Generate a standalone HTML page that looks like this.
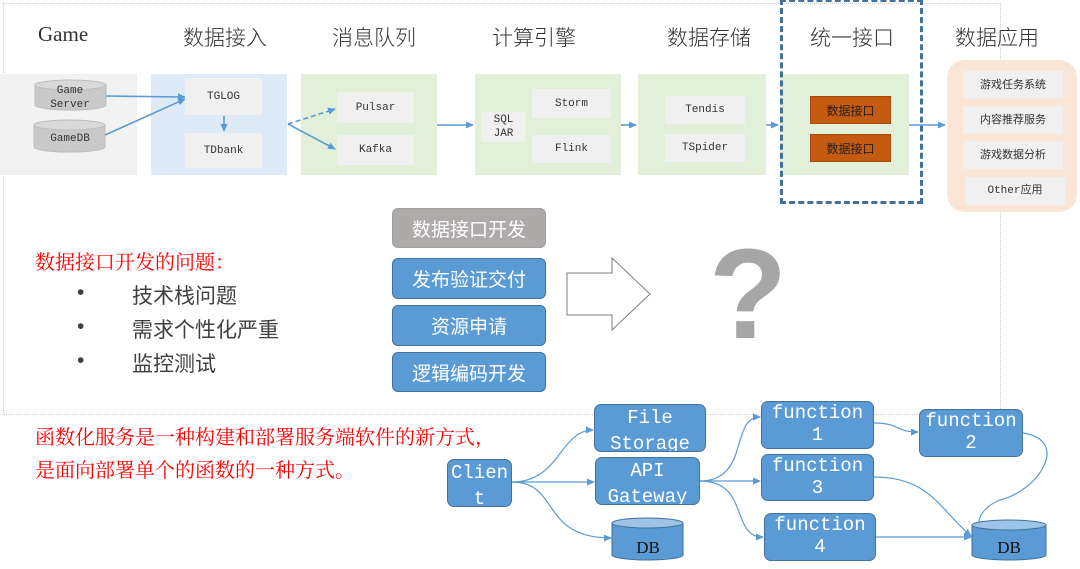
<!DOCTYPE html>
<html><head><meta charset="utf-8"><style>
body{margin:0;width:1080px;height:569px;background:#fff;position:relative;overflow:hidden;font-family:"Liberation Serif","Noto Serif CJK SC",serif}
.a{position:absolute;box-sizing:border-box}
.h{position:absolute;top:22px;font-size:21px;color:#333;font-family:"Liberation Sans","Noto Sans CJK SC",sans-serif;font-weight:300}
.p{position:absolute;top:74px;height:101px}
.g{background:#f0f0f0;font-family:"Liberation Mono","Noto Sans CJK SC",monospace;font-size:11px;color:#333;display:flex;align-items:center;justify-content:center;text-align:center;line-height:14px}
.o{background:#c55a11;border:1px solid #a84a0c;color:#222;font-size:12px;font-family:"Liberation Sans","Noto Sans CJK SC",sans-serif;display:flex;align-items:center;justify-content:center}
.b{background:#5b9bd5;border:1px solid #41719c;border-radius:6px;color:#fff;font-size:19px;font-family:"Liberation Sans","Noto Sans CJK SC",sans-serif;display:flex;align-items:center;justify-content:center}
.f{background:#5b9bd5;border:1px solid #41719c;border-radius:7px;color:#fff;font-size:19px;font-family:"Liberation Mono",monospace;text-align:center;line-height:26px;overflow:hidden}
.t{position:absolute;font-family:"Liberation Sans","Noto Sans CJK SC",sans-serif}
</style></head><body>
<div class="a" style="left:3px;top:3px;width:998px;height:412px;border:1px dotted #ccc"></div>
<div class="h" style="left:38px;font-family:'Liberation Serif',serif">Game</div>
<div class="h" style="left:183px">数据接入</div>
<div class="h" style="left:332px">消息队列</div>
<div class="h" style="left:492px">计算引擎</div>
<div class="h" style="left:667px">数据存储</div>
<div class="h" style="left:810px">统一接口</div>
<div class="h" style="left:955px">数据应用</div>

<div class="p" style="left:0;width:137px;background:#f2f2f2"></div>
<div class="p" style="left:151px;width:136px;background:#deebf7"></div>
<div class="p" style="left:301px;width:136px;background:#e2f0d9"></div>
<div class="p" style="left:475px;width:146px;background:#e2f0d9"></div>
<div class="p" style="left:638px;width:128px;background:#e2f0d9"></div>
<div class="p" style="left:780px;width:129px;background:#e2f0d9"></div>
<div class="a" style="left:780px;top:-1px;width:143px;height:205px;border:3px dashed #41719c"></div>
<div class="a" style="left:947px;top:60px;width:130px;height:152px;background:#fbe5d6;border-radius:18px"></div>

<svg class="a" style="left:0;top:0" width="1080" height="569">
<defs><marker id="m" markerUnits="userSpaceOnUse" markerWidth="8" markerHeight="8" refX="7" refY="4" orient="auto"><path d="M0,0.5 L8,4 L0,7.5z" fill="#5b9bd5"/></marker></defs>
<g fill="#c9c9c9" stroke="#bdbdbd">
<path d="M35,85 v20 a35,5 0 0 0 71,0 v-20z"/><ellipse cx="70.5" cy="85" rx="35.5" ry="5" fill="#d9d9d9"/>
<path d="M34,125 v22 a35,5 0 0 0 71,0 v-22z"/><ellipse cx="69.5" cy="125" rx="35.5" ry="5" fill="#d9d9d9"/>
</g>
<g stroke="#5b9bd5" stroke-width="1.6" fill="none" marker-end="url(#m)">
<path d="M106,96 L185,97"/><path d="M105,135 L185,99"/><path d="M224,116 V131"/>
<path d="M288,124 L335,109" stroke-dasharray="5,3"/><path d="M288,124 L335,149"/>
<path d="M437,125 H473"/><path d="M621,125 H636"/><path d="M766,125 H778"/><path d="M909,125 H945"/>
</g>
<path d="M567,273 H612 V258 L650,294 L612,330 V315 H567 Z" fill="#fff" stroke="#7f7f7f" stroke-width="1"/>
<g stroke="#5b9bd5" stroke-width="1.2" fill="none" marker-end="url(#m)">
<path d="M512,482 C560,482 560,430 593,430"/><path d="M512,482 H594"/><path d="M512,482 C560,482 540,538 611,538"/>
<path d="M700,481 C750,481 730,417 760,417"/><path d="M700,481 H760"/><path d="M700,481 C750,481 730,537 763,537"/>
<path d="M874,423 C900,423 895,432 918,432"/>
<path d="M1023,433 C1070,440 1040,490 1000,500 C975,510 975,530 985,536"/>
<path d="M874,477 C930,477 940,510 971,536"/><path d="M876,537 H971"/>
</g>
<g fill="#5b9bd5" stroke="#41719c">
<path d="M612,523 v32 a35.5,5 0 0 0 71,0 v-32z"/><ellipse cx="647.5" cy="523" rx="35.5" ry="5" fill="#9dc3e6"/>
<path d="M972,525 v30 a37,5 0 0 0 74,0 v-30z"/><ellipse cx="1009" cy="525" rx="37" ry="5" fill="#9dc3e6"/>
</g>
<text x="648" y="553" font-family="Liberation Serif" font-size="17" text-anchor="middle" fill="#111">DB</text>
<text x="1009" y="553" font-family="Liberation Serif" font-size="17" text-anchor="middle" fill="#111">DB</text>
<text x="70" y="93" font-family="Liberation Mono" font-size="11" text-anchor="middle" fill="#333">Game</text>
<text x="70" y="107" font-family="Liberation Mono" font-size="11" text-anchor="middle" fill="#333">Server</text>
<text x="70" y="141" font-family="Liberation Mono" font-size="11" text-anchor="middle" fill="#333">GameDB</text>
<text x="748" y="338" font-family="Liberation Sans" font-weight="bold" font-size="128" text-anchor="middle" fill="#a6a6a6">?</text>
</svg>

<div class="a g" style="left:185px;top:78px;width:77px;height:37px">TGLOG</div>
<div class="a g" style="left:185px;top:133px;width:77px;height:35px">TDbank</div>
<div class="a g" style="left:337px;top:92px;width:77px;height:31px">Pulsar</div>
<div class="a g" style="left:337px;top:135px;width:77px;height:30px">Kafka</div>
<div class="a g" style="left:481px;top:112px;width:45px;height:30px">SQL<br>JAR</div>
<div class="a g" style="left:532px;top:89px;width:79px;height:29px">Storm</div>
<div class="a g" style="left:532px;top:135px;width:79px;height:28px">Flink</div>
<div class="a g" style="left:665px;top:96px;width:80px;height:28px">Tendis</div>
<div class="a g" style="left:665px;top:134px;width:80px;height:28px">TSpider</div>
<div class="a o" style="left:810px;top:96px;width:81px;height:28px">数据接口</div>
<div class="a o" style="left:810px;top:134px;width:81px;height:28px">数据接口</div>
<div class="a g" style="left:963px;top:71px;width:100px;height:27px;font-family:'Liberation Sans','Noto Sans CJK SC',sans-serif">游戏任务系统</div>
<div class="a g" style="left:963px;top:106px;width:100px;height:28px;font-family:'Liberation Sans','Noto Sans CJK SC',sans-serif">内容推荐服务</div>
<div class="a g" style="left:963px;top:141px;width:100px;height:28px;font-family:'Liberation Sans','Noto Sans CJK SC',sans-serif">游戏数据分析</div>
<div class="a g" style="left:965px;top:177px;width:100px;height:28px">Other应用</div>

<div class="t" style="left:35px;top:246px;font-size:20px;color:#ff0000;font-family:'Liberation Serif','Noto Serif CJK SC',serif">数据接口开发的问题：</div>
<div class="t" style="left:77px;top:281px;font-size:21px;color:#404040">•</div>
<div class="t" style="left:77px;top:315px;font-size:21px;color:#404040">•</div>
<div class="t" style="left:77px;top:349px;font-size:21px;color:#404040">•</div>
<div class="t" style="left:132px;top:280px;font-size:21px;color:#404040">技术栈问题</div>
<div class="t" style="left:132px;top:314px;font-size:21px;color:#404040">需求个性化严重</div>
<div class="t" style="left:132px;top:348px;font-size:21px;color:#404040">监控测试</div>

<div class="a b" style="left:392px;top:208px;width:154px;height:40px;background:#aeaaaa;border-color:#a0a0a0">数据接口开发</div>
<div class="a b" style="left:392px;top:258px;width:154px;height:41px">发布验证交付</div>
<div class="a b" style="left:392px;top:305px;width:154px;height:41px">资源申请</div>
<div class="a b" style="left:392px;top:352px;width:154px;height:40px">逻辑编码开发</div>

<div class="t" style="left:35px;top:421px;font-size:20px;color:#ff0000;font-family:'Liberation Serif','Noto Serif CJK SC',serif">函数化服务是一种构建和部署服务端软件的新方式，</div>
<div class="t" style="left:35px;top:454px;font-size:20px;color:#ff0000;font-family:'Liberation Serif','Noto Serif CJK SC',serif">是面向部署单个的函数的一种方式。</div>

<div class="a f" style="left:447px;top:459px;width:65px;height:48px">Clien<br>t</div>
<div class="a f" style="left:594px;top:404px;width:112px;height:48px">File<br>Storage</div>
<div class="a f" style="left:595px;top:457px;width:105px;height:48px">API<br>Gateway</div>
<div class="a f" style="left:761px;top:401px;width:113px;height:48px;line-height:22px">function<br>1</div>
<div class="a f" style="left:919px;top:409px;width:104px;height:48px;line-height:22px">function<br>2</div>
<div class="a f" style="left:761px;top:454px;width:113px;height:47px;line-height:22px">function<br>3</div>
<div class="a f" style="left:764px;top:513px;width:112px;height:48px;line-height:22px">function<br>4</div>
</body></html>
